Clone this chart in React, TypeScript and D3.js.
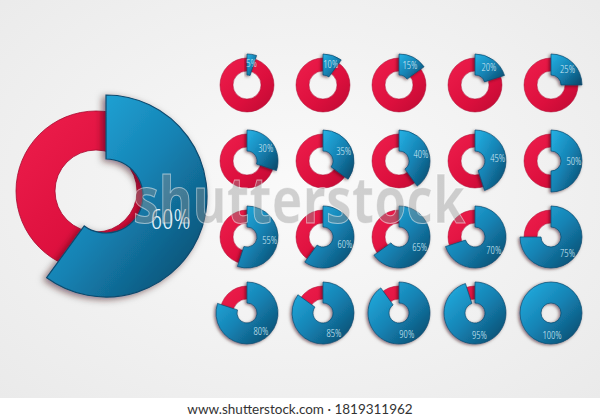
import * as React from "react"
import * as d3 from "d3"

// percentages shown in the 5x4 grid, row by row
const gridPercents = [5, 10, 15, 20, 25, 30, 35, 40, 45, 50, 55, 60, 65, 70, 75, 80, 85, 90, 95, 100]
const bigPercent = 60
const columns = [0, 1, 2, 3, 4]
const rows = [0, 1, 2, 3]
const footerText = "www.shutterstock.com · 1819311962"
const watermarkText = "shutterstock"

const W = 600
const H = 420

export default function App() {
  const colX = d3.scalePoint<number>().domain(columns).range([247, 551])
  const rowY = d3.scalePoint<number>().domain(rows).range([85, 313])
  const angle = d3.scaleLinear().domain([0, 100]).range([0, 2 * Math.PI])

  const smallRed = d3.arc<any>().innerRadius(14).outerRadius(27)
  const smallBlue = d3.arc<any>().innerRadius(10).outerRadius(31)
  const smallLabel = d3.arc<any>().innerRadius(22).outerRadius(22)

  const bigRed = d3.arc<any>().innerRadius(41).outerRadius(80)
  const bigBlue = d3.arc<any>().innerRadius(37).outerRadius(101)
  const bigLabel = d3.arc<any>().innerRadius(70).outerRadius(70)

  const full = { startAngle: 0, endAngle: 2 * Math.PI }
  const bigSeg = { startAngle: 0, endAngle: angle(bigPercent) }
  const [blx, bly] = bigLabel.centroid(bigSeg)

  return (
    <svg
      width={W}
      height={H}
      viewBox={`0 0 ${W} ${H}`}
      style={{ position: "absolute", left: 0, top: 0, display: "block" }}
    >
      <defs>
        <radialGradient id="bg" cx="0.5" cy="0.45" r="0.75">
          <stop offset="0" stopColor="#fafafa" />
          <stop offset="1" stopColor="#e9e9e9" />
        </radialGradient>
        <linearGradient id="blue" x1="0" y1="0" x2="1" y2="1">
          <stop offset="0" stopColor="#25b2e5" />
          <stop offset="0.5" stopColor="#1582b3" />
          <stop offset="1" stopColor="#0a4566" />
        </linearGradient>
        <linearGradient id="red" x1="0" y1="0" x2="1" y2="1">
          <stop offset="0" stopColor="#ee1e4c" />
          <stop offset="0.6" stopColor="#dc0f3d" />
          <stop offset="1" stopColor="#bd0a33" />
        </linearGradient>
        <filter id="sh" x="-30%" y="-30%" width="160%" height="160%">
          <feDropShadow dx="-1.5" dy="1" stdDeviation="1.6" floodColor="#300010" floodOpacity="0.55" />
        </filter>
        <filter id="shBig" x="-30%" y="-30%" width="160%" height="160%">
          <feDropShadow dx="-3" dy="2" stdDeviation="3.5" floodColor="#300010" floodOpacity="0.55" />
        </filter>
      </defs>

      <rect x={0} y={0} width={W} height={H} fill="url(#bg)" />

      {/* big donut */}
      <g transform="translate(96,191)">
        <path d={bigRed(full) || ""} fill="url(#red)" stroke="#a8082e" strokeWidth={0.8} />
      </g>
      <g transform="translate(106,196)">
        <path
          d={bigBlue(bigSeg) || ""}
          fill="url(#blue)"
          stroke="#0b4a6e"
          strokeWidth={1.2}
          filter="url(#shBig)"
        />
        <text
          x={blx - 2}
          y={bly}
          textAnchor="middle"
          dominantBaseline="central"
          fontFamily="'Open Sans', sans-serif"
          fontWeight={300}
          fontSize={28}
          fill="#e4f3fb"
          style={{ fontStretch: "condensed" }}
        >
          {bigPercent}%
        </text>
      </g>

      {/* grid of small donuts */}
      {gridPercents.map((p, i) => {
        const cx = colX(i % 5) || 0
        const cy = rowY(Math.floor(i / 5)) || 0
        const seg = { startAngle: 0, endAngle: angle(p) }
        const [lx, ly] = smallLabel.centroid(seg)
        return (
          <g key={p} transform={`translate(${cx},${cy})`}>
            <path d={smallRed(full) || ""} fill="url(#red)" stroke="#a8082e" strokeWidth={0.5} />
            <path
              d={smallBlue(seg) || ""}
              fill="url(#blue)"
              stroke="#0b4a6e"
              strokeWidth={0.7}
              filter="url(#sh)"
            />
            <text
              x={lx + 1}
              y={ly}
              textAnchor="middle"
              dominantBaseline="central"
              fontFamily="'Open Sans', sans-serif"
              fontWeight={300}
              fontSize={10.5}
              fill="#cfe7f4"
              style={{ fontStretch: "condensed" }}
            >
              {p}%
            </text>
          </g>
        )
      })}

      {/* watermark */}
      <text
        x={133}
        y={223}
        textLength={332}
        lengthAdjust="spacingAndGlyphs"
        fontFamily="'Open Sans', sans-serif"
        fontWeight={700}
        fontSize={64}
        fill="#909090"
        fillOpacity={0.4}
        stroke="#ffffff"
        strokeOpacity={0.5}
        strokeWidth={1}
      >
        {watermarkText}
      </text>

      {/* footer strip */}
      <rect x={0} y={398} width={W} height={22} fill="#ffffff" />
      <text
        x={300}
        y={414}
        textAnchor="middle"
        fontFamily="Lato, 'Open Sans', sans-serif"
        fontSize={13.5}
        fill="#333333"
      >
        {footerText}
      </text>
    </svg>
  )
}
